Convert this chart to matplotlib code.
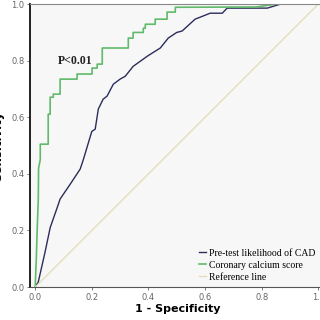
import matplotlib
matplotlib.use("Agg")
import matplotlib.pyplot as plt

# ROC curves (1 - specificity, sensitivity)
pretest_fpr = [0, 0.011, 0.035, 0.053, 0.081, 0.088, 0.124, 0.159, 0.17, 0.2, 0.212, 0.223,
               0.24, 0.254, 0.276, 0.3, 0.318, 0.346, 0.396, 0.442, 0.47, 0.5, 0.519, 0.565,
               0.583, 0.618, 0.661, 0.678, 0.82, 0.866, 1.0]
pretest_tpr = [0, 0.018, 0.124, 0.21, 0.29, 0.311, 0.364, 0.417, 0.45, 0.55, 0.558, 0.629,
               0.664, 0.675, 0.717, 0.735, 0.745, 0.78, 0.816, 0.845, 0.88, 0.9, 0.905, 0.947,
               0.954, 0.968, 0.968, 0.986, 0.986, 1.0, 1.0]

calcium_fpr = [0, 0.004, 0.007, 0.011, 0.012, 0.018, 0.018, 0.046, 0.046, 0.053, 0.053, 0.064,
               0.064, 0.088, 0.088, 0.148, 0.148, 0.201, 0.201, 0.219, 0.219, 0.237, 0.237,
               0.329, 0.329, 0.346, 0.346, 0.382, 0.382, 0.389, 0.389, 0.424, 0.424, 0.466,
               0.466, 0.495, 0.495, 0.78, 0.85, 1.0]
calcium_tpr = [0, 0.1, 0.2, 0.31, 0.42, 0.45, 0.505, 0.505, 0.611, 0.611, 0.671, 0.671,
               0.682, 0.682, 0.735, 0.735, 0.753, 0.753, 0.774, 0.774, 0.788, 0.788, 0.845,
               0.845, 0.88, 0.88, 0.90, 0.90, 0.915, 0.915, 0.929, 0.929, 0.947, 0.947,
               0.972, 0.972, 0.989, 0.99, 1.0, 1.0]

ref_x = [0, 1]
ref_y = [0, 1]

ticks = [0.0, 0.2, 0.4, 0.6, 0.8, 1.0]
tick_labels = ["0.0", "0.2", "0.4", "0.6", "0.8", "1.0"]

fig = plt.figure(figsize=(3.2, 3.2), dpi=100)
ax = fig.add_axes([0.094, 0.103, 0.92, 0.884])
ax.set_facecolor("#f7f7f7")

ax.plot(pretest_fpr, pretest_tpr, color="#2b2d5a", lw=1.0, label="Pre-test likelihood of CAD")
ax.plot(calcium_fpr, calcium_tpr, color="#5fba6a", lw=1.2, label="Coronary calcium score")
ax.plot(ref_x, ref_y, color="#e4ddb3", lw=0.9, label="Reference line")

ax.set_xlim(-0.018, 1.022)
ax.set_ylim(0, 1)
ax.set_xticks(ticks)
ax.set_xticklabels(tick_labels)
ax.set_yticks(ticks)
ax.set_yticklabels(tick_labels)
ax.tick_params(labelsize=6, colors="#666666", length=2.5, width=0.6, pad=1.5)

ax.spines["left"].set_color("#111111")
ax.spines["left"].set_linewidth(1.3)
ax.spines["bottom"].set_color("#555555")
ax.spines["bottom"].set_linewidth(0.8)
ax.spines["top"].set_color("#888888")
ax.spines["right"].set_visible(False)

ax.set_xlabel("1 - Specificity", fontsize=8, fontweight="bold", labelpad=2)
ax.set_ylabel("Sensitivity", fontsize=8.5, fontweight="bold", labelpad=5)

ax.text(0.08, 0.8, "P<0.01", fontsize=8.5, fontweight="bold", family="Liberation Serif",
        va="center", ha="left", color="#222222")

ax.legend(loc="lower right", bbox_to_anchor=(1.0, -0.012), frameon=False,
          handlelength=0.8, handletextpad=0.3, labelspacing=0.3,
          prop={"family": "Liberation Serif", "size": 7})

fig.savefig("out.png", dpi=100)
